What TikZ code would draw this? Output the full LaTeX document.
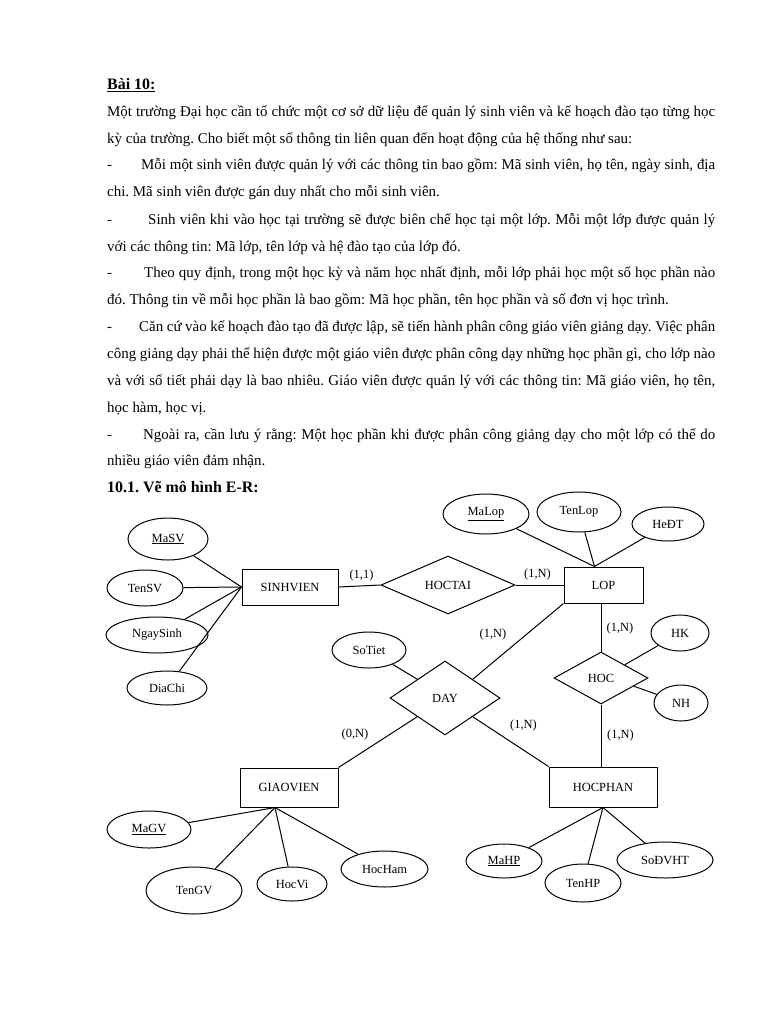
\documentclass[tikz,border=0pt]{standalone}
\usepackage{fontspec}
\setmainfont{Liberation Serif}
\usetikzlibrary{shapes.geometric}
\frenchspacing
\newcommand\bodyfont{\fontsize{15}{27}\selectfont\frenchspacing\spaceskip=0.25em plus 0.8em minus 0.05em\relax}
\newcommand\headfont{\fontsize{16}{27}\selectfont\bfseries}
\newcommand\dfont{\fontsize{12.5}{14}\selectfont}
\tikzset{
 txt/.style={anchor=base west, inner sep=0, font=\bodyfont},
 hd/.style={anchor=base west, inner sep=0, font=\headfont},
 conn/.style={line width=1bp},
 ent/.style={draw, line width=1bp, rectangle, inner sep=0, font=\dfont},
 attr/.style={draw, line width=1bp, ellipse, inner sep=0, font=\dfont},
 rel/.style={draw, line width=1bp, diamond, inner sep=0, font=\dfont},
 card/.style={inner sep=0, font=\dfont},
}
\begin{document}
\begin{tikzpicture}[x=1bp,y=-1bp]
\fill[white] (0,0) rectangle (768,1024);
\useasboundingbox (0,0) rectangle (768,1024);

% ---------- text ----------
\node[hd] (title) at (107,89.5) {\underline{Bài 10:}};
\node[txt] (l1) at (107,116.5) {\hbox to 608bp{Một trường Đại học cần tổ chức một cơ sở dữ liệu để quản lý sinh viên và kế hoạch đào tạo từng học}};
\node[txt] (l2) at (107,143) {kỳ của trường. Cho biết một số thông tin liên quan đến hoạt động của hệ thống như sau:};
\node[txt] (d3) at (107,169.5) {-};
\node[txt] (l3) at (141,169.5) {\hbox to 574bp{Mỗi một sinh viên được quản lý với các thông tin bao gồm: Mã sinh viên, họ tên, ngày sinh, địa}};
\node[txt] (l4) at (107,196) {chi. Mã sinh viên được gán duy nhất cho mỗi sinh viên.};
\node[txt] (d5) at (107,224) {-};
\node[txt] (l5) at (148,224) {\hbox to 567bp{Sinh viên khi vào học tại trường sẽ được biên chế học tại một lớp. Mỗi một lớp được quản lý}};
\node[txt] (l6) at (107,251) {với các thông tin: Mã lớp, tên lớp và hệ đào tạo của lớp đó.};
\node[txt] (d7) at (107,277.5) {-};
\node[txt] (l7) at (144,277.5) {\hbox to 571bp{Theo quy định, trong một học kỳ và năm học nhất định, mỗi lớp phải học một số học phần nào}};
\node[txt] (l8) at (107,304) {đó. Thông tin về mỗi học phần là bao gồm: Mã học phần, tên học phần và số đơn vị học trình.};
\node[txt] (d9) at (107,331) {-};
\node[txt] (l9) at (139,331) {\hbox to 576bp{Căn cứ vào kế hoạch đào tạo đã được lập, sẽ tiến hành phân công giáo viên giảng dạy. Việc phân}};
\node[txt] (l10) at (107,358.5) {\hbox to 608bp{công giảng dạy phải thể hiện được một giáo viên được phân công dạy những học phần gì, cho lớp nào}};
\node[txt] (l11) at (107,385.5) {\hbox to 608bp{và với số tiết phải dạy là bao nhiêu. Giáo viên được quản lý với các thông tin: Mã giáo viên, họ tên,}};
\node[txt] (l12) at (107,412) {học hàm, học vị.};
\node[txt] (d13) at (107,439) {-};
\node[txt] (l13) at (143,439) {\hbox to 572bp{Ngoài ra, cần lưu ý rằng: Một học phần khi được phân công giảng dạy cho một lớp có thể do}};
\node[txt] (l14) at (107,465) {nhiều giáo viên đảm nhận.};
\node[hd] (sub) at (107,492) {10.1. Vẽ mô hình E-R:};

% ---------- entities ----------
\node[ent, minimum width=96bp, minimum height=36bp] (SV) at (290,587) {SINHVIEN};
\node[ent, minimum width=79bp, minimum height=36bp] (LOP) at (603.5,585) {LOP};
\node[ent, minimum width=108bp, minimum height=40bp] (HP) at (603,787) {HOCPHAN};
\node[ent, minimum width=98bp, minimum height=39bp] (GV) at (289,787.5) {GIAOVIEN};

% ---------- relationships ----------
\node[rel, minimum width=134bp, minimum height=58bp] (HOCTAI) at (448,585) {HOCTAI};
\node[rel, minimum width=94bp, minimum height=52bp] (HOC) at (601,678) {HOC};
\node[rel, minimum width=110bp, minimum height=74bp] (DAY) at (445,698) {DAY};

% ---------- attributes ----------
\node[attr, minimum width=80bp, minimum height=42bp] (MaSV) at (168,539) {\underline{MaSV}};
\node[attr, minimum width=76bp, minimum height=36bp] (TenSV) at (145,588) {TenSV};
\node[attr, minimum width=102bp, minimum height=36bp] (NgaySinh) at (157,635) {NgaySinh};
\node[attr, minimum width=80bp, minimum height=34bp] (DiaChi) at (167,688) {DiaChi};

\node[attr, minimum width=86bp, minimum height=40bp] (MaLop) at (486,514) {\underline{MaLop}};
\node[attr, minimum width=84bp, minimum height=40bp] (TenLop) at (579,512) {TenLop};
\node[attr, minimum width=72bp, minimum height=34bp] (HeDT) at (668,524) {HeĐT};

\node[attr, minimum width=58bp, minimum height=36bp] (HK) at (680,633) {HK};
\node[attr, minimum width=54bp, minimum height=36bp] (NH) at (681,703) {NH};

\node[attr, minimum width=74bp, minimum height=36bp] (SoTiet) at (369,650) {SoTiet};

\node[attr, minimum width=76bp, minimum height=34bp] (MaHP) at (504,861) {\underline{MaHP}};
\node[attr, minimum width=76bp, minimum height=38bp] (TenHP) at (583,883) {TenHP};
\node[attr, minimum width=96bp, minimum height=36bp] (SoDVHT) at (665,860) {SoĐVHT};

\node[attr, minimum width=84bp, minimum height=37bp] (MaGV) at (149,829.5) {\underline{MaGV}};
\node[attr, minimum width=96bp, minimum height=47bp] (TenGV) at (194,890.5) {TenGV};
\node[attr, minimum width=70bp, minimum height=34bp] (HocVi) at (292,884) {HocVi};
\node[attr, minimum width=87bp, minimum height=36bp] (HocHam) at (384.5,869) {HocHam};

% ---------- cardinalities ----------
\node[card] (c1) at (361.5,575) {(1,1)};
\node[card] (c2) at (537.5,574) {(1,N)};
\node[card] (c3) at (620,628.5) {(1,N)};
\node[card] (c4) at (493,634) {(1,N)};
\node[card] (c5) at (355,734.5) {(0,N)};
\node[card] (c6) at (523.5,725.5) {(1,N)};
\node[card] (c7) at (620.5,735.5) {(1,N)};

% ---------- connectors ----------
\draw[conn] (MaSV) -- (SV.west);
\draw[conn] (TenSV) -- (SV.west);
\draw[conn] (NgaySinh) -- (SV.west);
\draw[conn] (DiaChi) -- (SV.west);

\draw[conn] (SV.east) -- (HOCTAI.west);
\draw[conn] (HOCTAI.east) -- (LOP.west);

\draw[conn] (MaLop) -- ([xshift=-9bp]LOP.north);
\draw[conn] (TenLop) -- ([xshift=-9bp]LOP.north);
\draw[conn] (HeDT) -- ([xshift=-9bp]LOP.north);

\draw[conn] (HOC.north) -- (HOC.north |- LOP.south);
\draw[conn] (HOC.south) -- (HOC.south |- HP.north);
\draw[conn] (HOC.north east) -- (HK);
\draw[conn] (HOC.-14) -- (NH);

\draw[conn] (DAY.north east) -- (LOP.south west);
\draw[conn] (DAY.south west) -- (GV.north east);
\draw[conn] (DAY.south east) -- (HP.north west);
\draw[conn] (SoTiet) -- (DAY.north west);

\draw[conn] (MaHP) -- (HP.south);
\draw[conn] (TenHP) -- (HP.south);
\draw[conn] (SoDVHT) -- (HP.south);

\draw[conn] (MaGV) -- ([xshift=-14bp]GV.south);
\draw[conn] (TenGV) -- ([xshift=-14bp]GV.south);
\draw[conn] (HocVi) -- ([xshift=-14bp]GV.south);
\draw[conn] (HocHam) -- ([xshift=-14bp]GV.south);
\end{tikzpicture}
\end{document}
